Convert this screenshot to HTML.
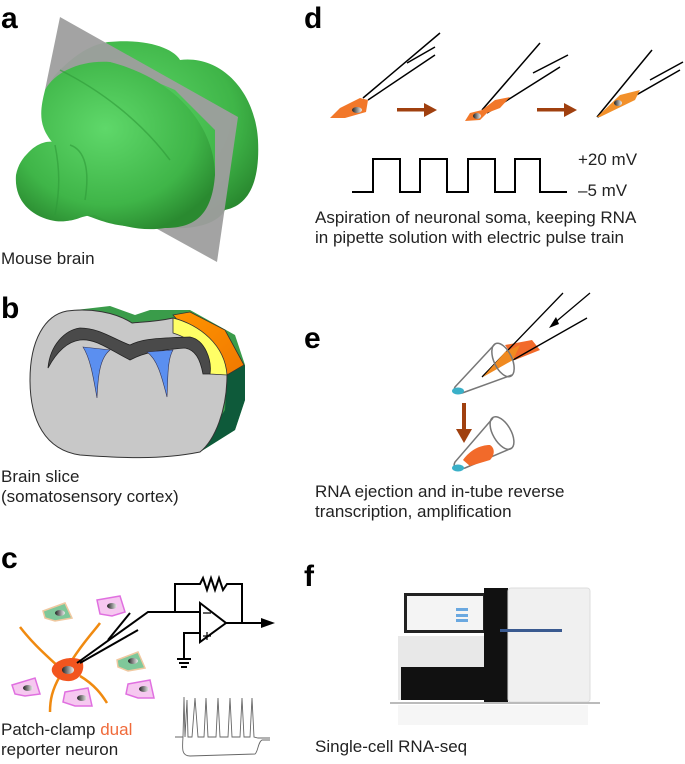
<!DOCTYPE html>
<html><head><meta charset="utf-8"><style>
html,body{margin:0;padding:0;background:#fff}
svg{display:block}
text{font-family:"Liberation Sans",sans-serif;fill:#222}
.lbl{font-size:30px;font-weight:bold;fill:#000}
.t{font-size:17px}
</style></head><body>
<svg width="685" height="764" viewBox="0 0 685 764" xmlns="http://www.w3.org/2000/svg">
<defs>
<radialGradient id="gb" cx="45%" cy="40%" r="65%"><stop offset="0" stop-color="#5fd86a"/><stop offset="0.7" stop-color="#3fb548"/><stop offset="1" stop-color="#2a8a30"/></radialGradient>
<linearGradient id="nuc" x1="0" x2="1"><stop offset="0" stop-color="#222"/><stop offset="1" stop-color="#eee"/></linearGradient>
<linearGradient id="org" x1="0" x2="1" y1="0" y2="1"><stop offset="0" stop-color="#ff9500"/><stop offset="1" stop-color="#f07800"/></linearGradient>
</defs>
<!-- a -->
<text class="lbl" x="1" y="28">a</text>
<path d="M108,42 C150,38 175,50 180,60 C220,55 255,90 258,140 C260,180 250,205 225,210 C215,228 180,232 150,225 C120,230 100,220 85,215 C70,225 45,222 35,210 C18,200 12,180 20,165 C30,145 45,140 55,142 C45,120 38,90 60,70 C75,55 90,45 108,42 Z" fill="url(#gb)"/>
<polygon points="60,17 238,117 217,262 150,225 185,213 215,175 215,130 175,90 110,62 45,90" fill="#9e9e9e" opacity="0.95"/>
<path d="M45,90 C40,110 38,125 52,142 C35,145 20,155 16,175 C14,200 30,215 50,220 C70,225 80,215 95,215 C115,225 140,232 165,228 C195,228 212,215 215,175 C215,130 180,80 110,62 C80,60 55,72 45,90 Z" fill="url(#gb)"/>
<path d="M60,70 C100,90 140,120 170,160 M85,200 C90,170 85,150 70,145 M55,145 C60,170 60,190 55,215" stroke="#2f9a38" stroke-width="1.5" fill="none" opacity="0.6"/>
<text class="t" x="1" y="264">Mouse brain</text>
<!-- b -->
<text class="lbl" x="1" y="318">b</text>
<path d="M67,311 L110,306 L135,315 L150,310 L190,310 L235,335 L245,365 L245,400 L235,430 L200,452 Z" fill="#3a9c4a"/>
<path d="M227,375 L245,365 L245,400 L235,430 L200,452 L205,440 L225,410 Z" fill="#0e5a3a"/>
<path d="M173,315 L190,312 L225,330 L244,365 L227,375 Z" fill="url(#org)" stroke="#333" stroke-width="0.8"/>
<path d="M67,311 C45,315 30,340 30,380 C30,420 45,450 80,455 C120,458 160,460 200,452 C215,440 227,410 227,375 C220,345 200,325 173,318 C155,322 140,322 132,323 C115,312 90,308 67,311 Z" fill="#c8c8c8" stroke="#333" stroke-width="1"/>
<path d="M173,318 L173,333 C195,340 210,355 210,374 L227,375 C225,345 200,325 173,318 Z" fill="#ffff66" stroke="#333" stroke-width="0.8"/>
<path d="M48,368 C50,345 65,330 80,328 C100,328 115,340 130,345 C140,340 150,338 190,337 C205,340 212,360 210,374 L203,374 C200,358 195,350 185,348 C160,350 145,352 130,360 C110,350 95,338 80,340 C65,342 55,355 48,368 Z" fill="#4a4a4a" stroke="#222" stroke-width="0.8"/>
<path d="M83,347 L110,350 C100,358 98,375 97,398 C93,375 90,358 83,347 Z" fill="#5b8ff0" stroke="#335" stroke-width="0.6"/>
<path d="M147,352 L173,350 C167,360 168,380 167,397 C162,378 158,360 147,352 Z" fill="#5b8ff0" stroke="#335" stroke-width="0.6"/>
<text class="t" x="1" y="482">Brain slice</text>
<text class="t" x="1" y="502">(somatosensory cortex)</text>
<!-- c -->
<text class="lbl" x="1" y="568">c</text>
<g stroke="#f08a10" stroke-width="2.5" fill="none">
<path d="M60,668 C40,650 30,640 20,627"/><path d="M72,660 C85,640 95,630 100,623"/>
<path d="M60,676 C52,690 50,700 50,712"/><path d="M80,676 C95,685 102,695 107,703"/>
</g>
<g fill="#f6c8f0" stroke="#e070e0" stroke-width="1.5">
<path d="M97,600 L120,596 L125,612 L112,616 L100,614 Z"/>
<path d="M12,685 L35,678 L40,694 L25,696 L15,694 Z"/>
<path d="M65,692 L88,688 L92,706 L75,706 L63,702 Z"/>
<path d="M128,684 L150,680 L154,698 L138,698 L126,694 Z"/>
</g>
<g fill="#7fc89a" stroke="#f0c8a0" stroke-width="1.5">
<path d="M43,611 L65,603 L72,618 L55,621 L45,618 Z"/>
<path d="M117,660 L138,652 L145,668 L128,671 L118,667 Z"/>
</g>
<g fill="url(#nuc)"><ellipse cx="112" cy="606" rx="5" ry="3"/><ellipse cx="28" cy="688" rx="5" ry="3"/><ellipse cx="82" cy="698" rx="5" ry="3"/><ellipse cx="144" cy="689" rx="5" ry="3"/><ellipse cx="60" cy="613" rx="5" ry="3"/><ellipse cx="133" cy="661" rx="5" ry="3"/></g>
<path d="M52,668 C55,660 70,655 82,660 C86,670 80,680 70,681 C60,682 50,675 52,668 Z" fill="#f2551f"/>
<ellipse cx="68" cy="670" rx="6" ry="4" fill="url(#nuc)"/>
<g stroke="#000" stroke-width="2" fill="none">
<path d="M77,663 L148,612 L200,612"/><path d="M80,663 L138,630"/><path d="M108,640 L130,613"/>
<path d="M175,612 L175,584 L200,584 L203,578 L207,590 L211,578 L215,590 L219,578 L223,590 L227,584 L242,584 L242,623"/>
<polygon points="200,603 200,642 226,623"/>
<path d="M226,623 L262,623"/>
<path d="M200,633 L184,633 L184,658 M177,659 L191,659 M179,663 L189,663 M181,667 L187,667"/>
<path d="M203,613 L211,613 M203,636 L211,636 M207,632 L207,640" stroke-width="1.2"/>
</g>
<polygon points="275,623 261,618 261,628" fill="#000"/>
<path d="M175,737 L183,737 L184,697 L185,737 L187,700 L188,737 L192,737 L195,698 L198,737 L204,737 L206,698 L208,737 L216,737 L218,698 L220,737 L228,737 L230,698 L232,737 L240,737 L242,698 L244,737 L250,737 L252,698 L254,737 L258,738 L270,738 M183,737 C182,750 182,756 190,756 L255,754 C258,752 258,742 262,740 L270,740" stroke="#666" stroke-width="0.9" fill="none"/>
<text class="t" x="1" y="735">Patch-clamp <tspan fill="#f06a3a">dual</tspan></text>
<text class="t" x="1" y="755">reporter neuron</text>
<!-- d -->
<text class="lbl" x="304" y="28">d</text>
<g stroke="#000" stroke-width="1.5" fill="none">
<path d="M440,33 L363,98 M435,55 L368,100 M407,63 L435,47"/>
<path d="M540,43 L482,110 M560,67 L487,113 M533,73 L568,55"/>
<path d="M652,50 L597,117 M680,70 L598,117 M650,80 L683,62"/>
</g>
<path d="M360,98 L368,100 L366,112 L345,118 L330,118 L340,108 Z" fill="#f2782a"/>
<ellipse cx="357" cy="110" rx="5" ry="3" fill="url(#nuc)"/>
<path d="M482,110 L495,100 L510,97 L500,108 L487,113 L480,120 L465,121 L470,113 Z" fill="#f2782a"/>
<ellipse cx="477" cy="116" rx="4" ry="3" fill="url(#nuc)"/>
<path d="M597,117 L620,95 L640,90 L635,100 L600,117 Z" fill="#f2902a"/>
<ellipse cx="618" cy="103" rx="4" ry="3" fill="url(#nuc)"/>
<g fill="#a0400f"><rect x="397" y="108" width="28" height="3.5"/><polygon points="437,110 424,103 424,117"/><rect x="537" y="108" width="28" height="3.5"/><polygon points="577,110 564,103 564,117"/></g>
<path d="M352,192 L373,192 L373,159 L400,159 L400,192 L420,192 L420,159 L447,159 L447,192 L468,192 L468,159 L495,159 L495,192 L515,192 L515,159 L540,159 L540,192 L567,192" stroke="#000" stroke-width="2" fill="none"/>
<text class="t" x="578" y="165">+20 mV</text>
<text class="t" x="578" y="196">–5 mV</text>
<text class="t" x="315" y="223">Aspiration of neuronal soma, keeping RNA</text>
<text class="t" x="315" y="243">in pipette solution with electric pulse train</text>
<!-- e -->
<text class="lbl" x="304" y="348">e</text>
<path d="M505,345 L532,340 L540,350 L515,360 Z" fill="#f26a2a"/>
<g stroke="#000" stroke-width="1.3" fill="none"><path d="M563,293 L482,377 M587,318 L513,360"/><path d="M590,293 L552,325"/></g>
<polygon points="549,328 556,317 559,324" fill="#000"/>
<path d="M483,377 L513,360 L520,345 L505,352 Z" fill="#f08a20"/>
<g stroke="#777" stroke-width="1.5" fill="none">
<ellipse cx="503" cy="360" rx="9" ry="18" transform="rotate(-25 503 360)"/>
<path d="M495,344 L455,387 C452,392 458,395 465,392 L512,375"/>
<ellipse cx="502" cy="433" rx="9" ry="18" transform="rotate(-30 502 433)"/>
<path d="M493,418 L455,462 C452,468 458,470 465,468 L512,448"/>
</g>
<ellipse cx="458" cy="391" rx="6" ry="3.5" fill="#3ab0c8"/>
<path d="M463,460 C470,450 480,445 490,445 C495,448 495,455 490,460 L470,466 Z" fill="#f26a2a"/>
<ellipse cx="458" cy="468" rx="6" ry="3.5" fill="#3ab0c8"/>
<rect x="462" y="403" width="4" height="28" fill="#a0400f"/><polygon points="464,443 456,429 472,429" fill="#a0400f"/>
<text class="t" x="315" y="497">RNA ejection and in-tube reverse</text>
<text class="t" x="315" y="517">transcription, amplification</text>
<!-- f -->
<text class="lbl" x="304" y="586">f</text>
<rect x="404" y="593" width="82" height="40" fill="#222"/>
<rect x="407" y="596" width="76" height="34" fill="#f4f4f4"/>
<rect x="456" y="608" width="12" height="3" fill="#6aa8e0"/><rect x="456" y="614" width="12" height="3" fill="#6aa8e0"/><rect x="456" y="619" width="12" height="3" fill="#6aa8e0"/>
<rect x="398" y="636" width="88" height="64" fill="#e8e8e8"/>
<rect x="401" y="667" width="88" height="33" fill="#111"/>
<rect x="484" y="588" width="24" height="114" fill="#111"/>
<rect x="508" y="588" width="82" height="114" rx="3" fill="#f0f0f0" stroke="#ddd"/>
<rect x="500" y="629" width="62" height="3" fill="#3a5a90"/>
<rect x="390" y="702" width="210" height="2" fill="#bbb"/>
<rect x="398" y="705" width="190" height="20" fill="#f6f6f6"/>
<text class="t" x="315" y="752">Single-cell RNA-seq</text>
</svg>
</body></html>
